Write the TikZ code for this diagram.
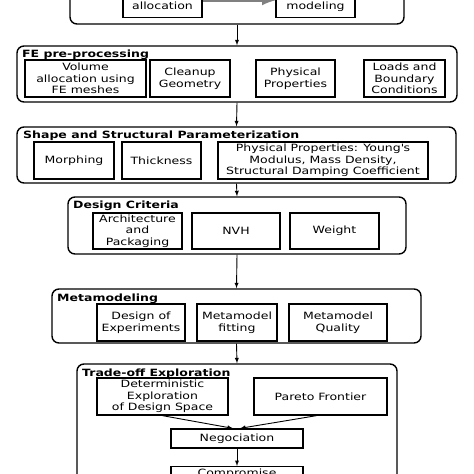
\documentclass[tikz,border=0pt]{standalone}
\usepackage{fontspec}
\setmainfont{DejaVu Sans}[FakeStretch=1.25]

\tikzset{
  stage/.style={draw, line width=1.4pt, rounded corners=7pt, inner sep=0pt},
  task/.style={draw, line width=1.3pt, align=center, inner sep=1pt,
    font=\fontsize{10pt}{11.5pt}\selectfont},
  cuttask/.style={task, anchor=south, text height=28pt, text depth=6pt, inner ysep=2pt},
  heading/.style={anchor=base west, inner sep=0pt,
    font=\fontsize{10pt}{11.5pt}\selectfont\bfseries},
  flow/.style={->, >=latex, line width=0.9pt},
  flowgray/.style={->, >=latex, line width=3.5pt, black!50},
}

\begin{document}
\begin{tikzpicture}[x=1pt, y=-1pt]
      \useasboundingbox (0,0) rectangle (474,474);
      \clip (0,0) rectangle (474,474);

      % top stage, cut by the edge
      \node[stage, minimum width=334pt, minimum height=64pt] (top) at (237,-8) {};
      \node[cuttask, minimum width=79pt] (alloc) at (162.5,18) {allocation};
      \node[cuttask, minimum width=79pt] (model) at (315.5,18) {modeling};
      \draw[flowgray] ([yshift=-2pt]alloc.east) -- ([yshift=-2pt]model.west);

      % FE pre-processing
      \node[stage, minimum width=440pt, minimum height=56pt] (fe) at (237,74) {};
      \node[heading] (fetitle) at (22,57) {FE pre-processing};
      \node[task, minimum width=121pt, minimum height=37pt] (vol) at (85.5,78.5) {Volume\\allocation using\\FE meshes};
      \node[task, minimum width=80pt, minimum height=37pt] (clean) at (190,78.5) {Cleanup\\Geometry};
      \node[task, minimum width=79pt, minimum height=37pt] (phys) at (295.5,78.5) {Physical\\Properties};
      \node[task, minimum width=81pt, minimum height=37pt] (loads) at (404.5,78.5) {Loads and\\Boundary\\Conditions};

      % Shape and Structural Parameterization
      \node[stage, minimum width=439pt, minimum height=56pt] (shape) at (236.5,155) {};
      \node[heading] (shtitle) at (23,138) {Shape and Structural Parameterization};
      \node[task, minimum width=80pt, minimum height=37pt] (morph) at (74,160.5) {Morphing};
      \node[task, minimum width=79pt, minimum height=37pt] (thick) at (161.5,160.5) {Thickness};
      \node[task, minimum width=210pt, minimum height=37pt] (young) at (323,160.5) {Physical Properties: Young\textquotesingle s\\Modulus, Mass Density,\\Structural Damping Coefficient};

      % Design Criteria
      \node[stage, minimum width=338pt, minimum height=57pt] (crit) at (237,225.5) {};
      \node[heading] (dctitle) at (73,208) {Design Criteria};
      \node[task, minimum width=89pt, minimum height=36pt] (arch) at (137.5,231) {Architecture\\and\\Packaging};
      \node[task, minimum width=88pt, minimum height=36pt] (nvh) at (236,231) {NVH};
      \node[task, minimum width=89pt, minimum height=36pt] (weight) at (334.5,231) {Weight};

      % Metamodeling
      \node[stage, minimum width=369pt, minimum height=54pt] (meta) at (236.5,316) {};
      \node[heading] (mmtitle) at (57,301) {Metamodeling};
      \node[task, minimum width=88pt, minimum height=37pt] (doe) at (141,322.5) {Design of\\Experiments};
      \node[task, minimum width=80pt, minimum height=37pt] (fit) at (237,322.5) {Metamodel\\fitting};
      \node[task, minimum width=98pt, minimum height=37pt] (qual) at (338,322.5) {Metamodel\\Quality};

      % Trade-off Exploration, cut by the edge
      \node[stage, minimum width=320pt, minimum height=156pt] (trade) at (237,442) {};
      \node[heading] (totitle) at (82,376) {Trade-off Exploration};
      \node[task, minimum width=131pt, minimum height=37pt] (determ) at (162.5,396.5) {Deterministic\\Exploration\\of Design Space};
      \node[task, minimum width=133pt, minimum height=37pt] (pareto) at (320.5,396.5) {Pareto Frontier};
      \node[task, minimum width=132pt, minimum height=19pt] (nego) at (237,438.5) {Negociation};
      \node[task, minimum width=132pt, anchor=north, inner ysep=2pt] (comp) at (237,466) {Compromise};

      % connectors
      \draw[flow] (top.south) -- (fe.north);
      \draw[flow] (fe.south) -- (shape.north);
      \draw[flow] (shape.south) -- (crit.north);
      \draw[flow] (crit.south) -- (meta.north);
      \draw[flow] (meta.south) -- (trade.north);
      \draw[flow] (determ.south) -- ([xshift=-4pt]nego.north);
      \draw[flow] ([xshift=-4pt]pareto.south) -- ([xshift=3pt]nego.north);
      \draw[flow] (nego.south) -- (comp.north);
  \end{tikzpicture}
\end{document}
